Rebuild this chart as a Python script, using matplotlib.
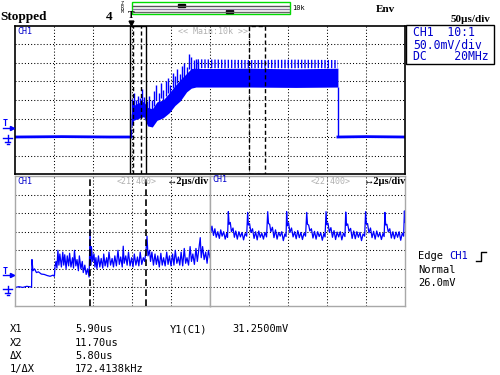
import matplotlib.pyplot as plt
from matplotlib.patches import Rectangle

plt.rcParams['hatch.linewidth'] = 1.0
mono = 'DejaVu Sans Mono'
serif = 'Liberation Serif'
blue = '#0000ff'
dot = (0, (1, 2))

# ---- main window: 50us/div, 50mV/div, ground at 0 mV ----
pre_t = [0, 60, 120, 148.7]
pre_v = [0, 1, 0, 0]
burst_t = [148.7, 152, 158, 165, 170, 176, 182, 190, 198, 205, 212, 220, 226, 232, 240, 300, 360, 414]
burst_lo = [22, 45, 50, 55, 30, 27, 45, 52, 66, 85, 98, 122, 132, 135, 135, 135, 134, 135]
burst_hi = [60, 85, 92, 96, 80, 76, 95, 100, 120, 138, 155, 172, 185, 186, 185, 186, 184, 186]
spike_t = [149.5, 151, 153, 155, 157.5, 160, 163, 166, 169, 172, 175, 178, 181, 184, 187, 190, 193,
           196, 199, 202, 205, 208, 211, 214, 217, 220, 223, 226, 229, 232, 235]
spike_v = [103, 90, 118, 100, 112, 105, 130, 108, 98, 112, 100, 125, 140, 118, 146, 128, 150,
           160, 140, 173, 165, 185, 170, 192, 200, 188, 224, 215, 208, 212, 205]
comb_t = [232, 300, 360, 414]
comb_hi = [210, 208, 209, 208]
post_t = [414, 450, 500]
post_v = [0, 1, 0]
# zoom windows marked on the main trace (us)
win_solid = [147.4, 168.0]
win1 = [150.9, 161.5]
win2 = [300.4, 320.5]

# ---- zoom 1 (<21:400>), 2us/div ----
z1_t = [0, 0.2, 0.4, 0.6, 0.85, 0.87, 0.92, 1.0, 1.1, 1.2, 1.35, 1.5, 1.65, 1.8, 1.95, 2.02,
        2.05, 2.1, 2.15, 2.2, 2.25, 2.3, 2.38, 2.45, 2.5, 2.55, 2.62, 2.68, 2.75, 2.8, 2.87, 2.95,
        3.0, 3.05, 3.12, 3.18, 3.25, 3.3, 3.38, 3.45, 3.5, 3.58, 3.65, 3.72, 3.8, 3.85, 3.88, 3.92,
        3.98, 4.05, 4.1, 4.15, 4.2, 4.28, 4.35, 4.42, 4.5, 4.55, 4.62, 4.7, 4.75, 4.82, 4.9, 4.98,
        5.05, 5.12, 5.2, 5.28, 5.35, 5.42, 5.5, 5.55, 5.6, 5.68, 5.75, 5.82, 5.9, 5.98, 6.05, 6.12,
        6.2, 6.28, 6.35, 6.42, 6.5, 6.58, 6.65, 6.72, 6.77, 6.82, 6.9, 6.95, 7.02, 7.1, 7.18, 7.25,
        7.32, 7.4, 7.48, 7.55, 7.62, 7.7, 7.78, 7.85, 7.92, 8.0, 8.08, 8.15, 8.22, 8.3, 8.38, 8.45,
        8.52, 8.6, 8.68, 8.75, 8.82, 8.9, 8.98, 9.05, 9.12, 9.2, 9.28, 9.35, 9.42, 9.5, 9.55, 9.62,
        9.7, 9.78, 9.85, 9.92, 10.0]
z1_v = [0, 2, 0, 3, 1, 75, 45, 50, 40, 42, 36, 35, 32, 30, 33, 30,
        55, 70, 52, 100, 60, 90, 55, 95, 60, 88, 50, 85, 58, 92, 55, 80,
        52, 100, 58, 75, 45, 85, 50, 70, 40, 60, 35, 50, 28, 153, 60, 110,
        70, 90, 55, 80, 50, 85, 55, 78, 52, 90, 58, 80, 55, 95, 60, 78,
        55, 85, 58, 100, 62, 82, 55, 111, 65, 85, 60, 95, 58, 80, 55, 90,
        60, 82, 58, 95, 62, 80, 70, 100, 138, 85, 100, 70, 95, 60, 90, 62,
        85, 55, 92, 60, 80, 58, 95, 62, 85, 58, 90, 60, 100, 65, 82, 60,
        95, 58, 105, 65, 80, 60, 110, 70, 90, 62, 105, 70, 100, 134, 80, 110,
        75, 95, 65, 100, 80]
cursor_x = [3.87, 6.74]

# ---- zoom 2 (<22:400>), 2us/div ----
z2_t = [0, 0.05, 0.1, 0.18, 0.25, 0.32, 0.4, 0.48, 0.55, 0.62, 0.7, 0.78, 0.85, 0.9,
        0.94, 0.98, 1.04, 1.1, 1.18, 1.25, 1.32, 1.4, 1.48, 1.56, 1.64, 1.72, 1.8, 1.88,
        1.93, 1.97, 2.03, 2.1, 2.18, 2.26, 2.34, 2.42, 2.5, 2.58, 2.66, 2.74, 2.82, 2.9,
        2.96, 3.0, 3.06, 3.12, 3.2, 3.28, 3.36, 3.44, 3.52, 3.6, 3.68, 3.76, 3.84, 3.9,
        3.93, 3.97, 4.03, 4.1, 4.18, 4.26, 4.34, 4.42, 4.5, 4.58, 4.66, 4.74, 4.82, 4.9,
        4.96, 5.0, 5.06, 5.12, 5.2, 5.28, 5.36, 5.44, 5.52, 5.6, 5.68, 5.76, 5.84, 5.9,
        5.95, 5.99, 6.05, 6.12, 6.2, 6.28, 6.36, 6.44, 6.52, 6.6, 6.68, 6.76, 6.84, 6.92,
        6.96, 7.0, 7.06, 7.13, 7.21, 7.29, 7.37, 7.45, 7.53, 7.61, 7.69, 7.77, 7.85, 7.93,
        7.98, 8.02, 8.08, 8.15, 8.23, 8.31, 8.39, 8.47, 8.55, 8.63, 8.71, 8.79, 8.87, 8.93,
        8.97, 9.01, 9.07, 9.14, 9.22, 9.3, 9.38, 9.46, 9.54, 9.62, 9.7, 9.78, 9.86, 9.93,
        9.97, 10.0]
z2_v = [178, 150, 165, 140, 158, 135, 150, 132, 155, 138, 150, 130, 145, 135,
        204, 170, 175, 150, 160, 135, 152, 130, 150, 136, 148, 128, 145, 138,
        202, 168, 172, 148, 158, 132, 150, 128, 152, 135, 146, 130, 148, 136,
        204, 172, 170, 150, 162, 134, 155, 130, 148, 138, 150, 126, 144, 137,
        204, 166, 174, 148, 160, 136, 150, 131, 153, 134, 148, 129, 146, 138,
        202, 170, 168, 152, 158, 133, 151, 130, 150, 137, 147, 127, 145, 136,
        204, 169, 173, 149, 161, 135, 153, 129, 149, 136, 150, 128, 146, 137,
        203, 167, 171, 151, 159, 132, 152, 131, 150, 135, 148, 126, 144, 138,
        204, 171, 172, 147, 160, 134, 151, 130, 152, 136, 147, 129, 145, 137,
        202, 168, 170, 150, 158, 133, 150, 131, 149, 135, 150, 127, 146, 138,
        206, 175]

fig = plt.figure(figsize=(5, 3.75), dpi=100)
fig.patch.set_facecolor('white')

W, H = 500.0, 375.0
def box(x0, y0, x1, y1):
    return [x0 / W, 1 - y1 / H, (x1 - x0) / W, (y1 - y0) / H]

ax1 = fig.add_axes(box(15, 26, 405, 174))
ax2 = fig.add_axes(box(15, 176, 210, 306))
ax3 = fig.add_axes(box(210, 176, 405, 306))

for ax in (ax1, ax2, ax3):
    ax.tick_params(length=0, labelbottom=False, labelleft=False)
    ax.grid(color='black', linestyle=dot, linewidth=0.75)
    ax.set_axisbelow(True)

ax1.set_xlim(0, 500)
ax1.set_ylim(-100, 300)
ax1.set_xticks(range(50, 500, 50))
ax1.set_yticks(range(-50, 300, 50))
for s in ax1.spines.values():
    s.set_color('black')
    s.set_linewidth(1.2)

ax1.plot(pre_t, pre_v, color=blue, lw=2)
ax1.plot(post_t, post_v, color=blue, lw=2)
ax1.fill_between(burst_t, burst_lo, burst_hi, color=blue, lw=0)
ax1.vlines(spike_t, [v - 40 for v in spike_v], spike_v, color=blue, lw=1)
ax1.fill_between(comb_t, [burst_hi[-1]] * len(comb_t), comb_hi, facecolor='none',
                 edgecolor=blue, hatch='|||||', lw=0)
ax1.vlines([burst_t[0], burst_t[-1]], [0, 0], [burst_lo[0], burst_lo[-1]], color=blue, lw=1)

ax1.add_patch(Rectangle((win_solid[0], -100), win_solid[1] - win_solid[0], 400,
                        fill=False, ec='black', lw=1, zorder=5))
for x in win1:
    ax1.axvline(x, color='black', lw=1, ls=(0, (3, 2)), zorder=5)
ax1.add_patch(Rectangle((win2[0], -99), win2[1] - win2[0], 398, fill=False,
                        ec='black', lw=1, ls=(0, (3, 2)), zorder=5))

for ax in (ax2, ax3):
    ax.set_xlim(0, 10)
    ax.set_ylim(-50, 300)
    ax.set_xticks([2, 4, 6, 8])
    ax.set_yticks(range(0, 300, 50))
    for s in ax.spines.values():
        s.set_color('#a8a8a8')
        s.set_linewidth(1)

ax2.plot(z1_t, z1_v, color=blue, lw=0.9)
for x in cursor_x:
    ax2.axvline(x, color='black', lw=1.2, ls=(0, (4, 2)), zorder=5)
ax3.plot(z2_t, z2_v, color=blue, lw=0.9)

# ---- overlay for all the scope text, in screen pixels ----
ov = fig.add_axes([0, 0, 1, 1])
ov.set_xlim(0, W)
ov.set_ylim(H, 0)
ov.axis('off')
ov.patch.set_alpha(0)

def t(x, y, s, **kw):
    kw.setdefault('family', mono)
    kw.setdefault('size', 7.5)
    kw.setdefault('va', 'center')
    ov.text(x, y, s, **kw)

t(0, 17, 'Stopped', family=serif, weight='bold', size=9.5)
t(106, 17, '4', family=serif, weight='bold', size=9.5)
t(128, 16, 'T', family=serif, weight='bold', size=7)
ov.plot([131], [23], marker='v', color='black', ms=3.5)
for i, c in enumerate('ZRM'):
    t(121, 3.5 + 3.8 * i, c, size=3.5)
ov.add_patch(Rectangle((132, 2), 158, 12, fill=False, ec='#00dd00', lw=1))
ov.plot([133, 289], [5.5, 5.5], color='#555555', lw=1)
ov.plot([133, 289], [8.5, 8.5], color='#8a7aa0', lw=1)
ov.plot([133, 289], [11.5, 11.5], color='#666666', lw=1)
ov.add_patch(Rectangle((178, 4), 7, 3, color='black'))
ov.add_patch(Rectangle((226, 9.5), 7, 3, color='black'))
t(292, 8, '10k', size=5)
t(376, 9, 'Env', family=serif, weight='bold', size=8)
t(490, 19, '50µs/div', family=serif, weight='bold', size=8, ha='right')

ov.add_patch(Rectangle((406, 25), 88, 39, fill=False, ec='black', lw=1))
t(413, 32, 'CH1  10:1', color='#0000cc', size=8.3)
t(413, 44.5, '50.0mV/div', color='#0000cc', size=8.3)
t(413, 57, 'DC    20MHz', color='#0000cc', size=8.3)

t(17, 31, 'CH1', color='#0000cc', size=6)
t(178, 31, '<< Main:10k >>', color='#b0b0b0', size=6)
t(17, 181, 'CH1', color='#0000cc', size=6)
t(137, 181, '<21:400>', color='#b0b0b0', size=6, ha='center')
t(209, 181, '↔2µs/div', family=serif, weight='bold', size=7.5, ha='right')
t(212, 180, 'CH1', color='#0000cc', size=6)
t(331, 181, '<22:400>', color='#b0b0b0', size=6, ha='center')
t(406, 181, '↔2µs/div', family=serif, weight='bold', size=7.5, ha='right')

# level / ground markers at the left edge
for ty, gy in ((126, 138), (273, 289)):
    t(3, ty - 2, 'T', color=blue, size=6, weight='bold')
    ov.plot([3, 11], [ty + 2, ty + 2], color=blue, lw=1)
    ov.plot([12], [ty + 2], marker='>', color=blue, ms=3)
    ov.plot([3, 12], [gy, gy], color=blue, lw=1)
    ov.plot([7.5, 7.5], [gy - 3, gy + 4], color=blue, lw=1)
    ov.plot([5, 10], [gy + 4, gy + 4], color=blue, lw=1)
    ov.plot([6.5, 8.5], [gy + 6, gy + 6], color=blue, lw=1)

t(418, 256, 'Edge', size=7.5)
t(449, 256, 'CH1', size=7.5, color='#0000cc')
ov.plot([476, 481, 481, 486], [261, 261, 252, 252], color='black', lw=1)
t(418, 270, 'Normal', size=7.5)
t(418, 283, '26.0mV', size=7.5)

t(10, 329, 'X1', size=7.5)
t(75, 329, '5.90us', size=7.5)
t(170, 329, 'Y1(C1)', size=7.5)
t(232, 329, '31.2500mV', size=7.5)
t(10, 343, 'X2', size=7.5)
t(75, 343, '11.70us', size=7.5)
t(10, 356, 'ΔX', size=7.5)
t(75, 356, '5.80us', size=7.5)
t(10, 369, '1/ΔX', size=7.5)
t(75, 369, '172.4138kHz', size=7.5)

fig.savefig('out.png', dpi=100)
